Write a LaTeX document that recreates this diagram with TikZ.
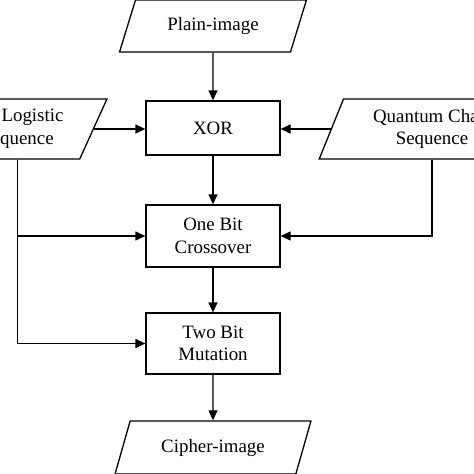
\documentclass[tikz,border=0pt]{standalone}
\usepackage{fontspec}
\setmainfont{Liberation Serif}
\usetikzlibrary{shapes.geometric,arrows.meta}
\begin{document}
\begin{tikzpicture}[x=1pt,y=-1pt,
  every node/.style={font=\fontsize{18.9}{22.5}\selectfont},
  procbox/.style={draw,line width=1.3pt,minimum width=134pt,inner sep=1pt,align=center},
  iobox/.style={draw,line width=1.3pt,trapezium,trapezium left angle=63.4,
    trapezium right angle=116.6,trapezium stretches=true,inner sep=1pt,align=center},
  flow/.style={line width=1.3pt,-{Triangle[length=10pt,width=9pt]}}]
\useasboundingbox (0,0) rectangle (474,474);
\node[iobox,minimum width=187pt,minimum height=52pt] (plain) at (213,26) {Plain-image};
\node[procbox,minimum height=54pt] (xor) at (213,128) {XOR};
\node[iobox,minimum width=179pt,minimum height=60pt] (log) at (17.5,129) {\hspace*{30pt}Logistic\\Sequence};
\node[iobox,minimum width=226pt,minimum height=60pt] (quant) at (432,129) {\hspace*{16pt}Quantum Chaotic\\Sequence};
\node[procbox,minimum height=62pt] (cross) at (213,236) {One Bit\\Crossover};
\node[procbox,minimum height=61pt] (mut) at (213,343.5) {Two Bit\\Mutation};
\node[iobox,minimum width=196pt,minimum height=53pt] (cipher) at (213,447.5) {Cipher-image};
\draw[flow] (plain.south) -- (xor.north);
\draw[flow] (log.east) -- (log.east -| xor.west);
\draw[flow] (quant.west) -- (quant.west -| xor.east);
\draw[flow] (xor.south) -- (cross.north);
\draw[flow] (cross.south) -- (mut.north);
\draw[flow] (mut.south) -- (cipher.north);
\draw[flow] (log.south) |- (mut.west);
\draw[flow] (log.south |- cross.west) -- (cross.west);
\draw[flow] (quant.south) |- (cross.east);
\end{tikzpicture}
\end{document}
